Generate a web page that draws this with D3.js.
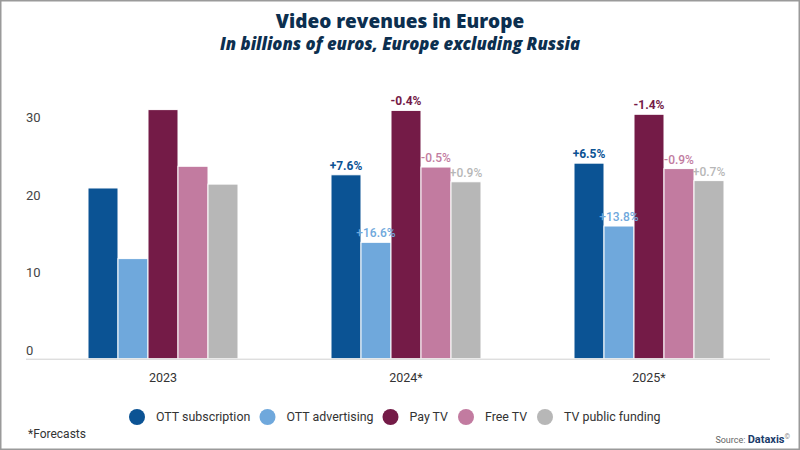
<!DOCTYPE html>
<html><head><meta charset="utf-8">
<script src="https://cdn.jsdelivr.net/npm/d3@7"></script>
<style>
html,body{margin:0;padding:0;background:#fff;}
svg{display:block;font-family:Roboto,"Noto Sans",sans-serif;}
</style></head>
<body><svg id="chart" width="800" height="450"></svg>
<script>
const categories = ["2023", "2024*", "2025*"];
const seriesNames = ["OTT subscription", "OTT advertising", "Pay TV", "Free TV", "TV public funding"];
const seriesColors = ["#0b5394", "#6fa8dc", "#741b47", "#c27ba0", "#b7b7b7"];
const ottSubscription = [22.0, 23.7, 25.2];
const ottAdvertising = [12.9, 15.0, 17.1];
const payTV = [32.1, 32.0, 31.5];
const freeTV = [24.8, 24.7, 24.5];
const tvPublicFunding = [22.5, 22.8, 22.95];
const growthLabels = [
  [null, "+7.6%", "+6.5%"],
  [null, "+16.6%", "+13.8%"],
  [null, "-0.4%", "-1.4%"],
  [null, "-0.5%", "-0.9%"],
  [null, "+0.9%", "+0.7%"]
];
const yTicks = [0, 10, 20, 30];
const seriesValues = [ottSubscription, ottAdvertising, payTV, freeTV, tvPublicFunding];

const svg = d3.select("#chart");
const W = 800, H = 450;

// frame
svg.append("rect").attr("x", 0.75).attr("y", 0.75).attr("width", W - 1.5).attr("height", H - 1.5)
  .attr("fill", "#fff").attr("stroke", "#9a9a9a").attr("stroke-width", 1.5);

// titles
svg.append("text").attr("x", 400).attr("y", 27.5).attr("text-anchor", "middle")
  .attr("font-family", "'Open Sans',sans-serif").attr("font-weight", 800).attr("font-size", 19)
  .attr("fill", "#0c2f4f").text("Video revenues in Europe");
svg.append("text").attr("x", 400).attr("y", 50).attr("text-anchor", "middle")
  .attr("font-family", "'Open Sans',sans-serif").attr("font-weight", 800).attr("font-style", "italic")
  .attr("font-size", 16.7).attr("fill", "#0c2f4f").text("In billions of euros, Europe excluding Russia");

const x0 = d3.scaleBand().domain(categories).range([41.5, 770.5]).paddingInner(0).paddingOuter(0);
const y = d3.scaleLinear().domain([0, 30]).range([358.7, 125.9]);
const barW = 30;
const x1 = d3.scaleBand().domain(d3.range(seriesNames.length))
  .range([0, barW * seriesNames.length]);

// y axis labels
const yAxis = d3.axisLeft(y).tickValues(yTicks).tickSize(0).tickPadding(0);
const gy = svg.append("g").attr("transform", "translate(26,0)").call(yAxis);
gy.select(".domain").remove();
gy.selectAll("text").attr("text-anchor", "start").attr("x", 0).attr("dy", "-0.32em")
  .attr("font-family", "Roboto,sans-serif").attr("font-size", 13).attr("fill", "#444");

// bars
const groups = svg.append("g").selectAll("g").data(categories).join("g")
  .attr("transform", d => `translate(${x0(d) + x0.bandwidth() / 2 - barW * seriesNames.length / 2},0)`);

groups.each(function (cat, ci) {
  const g = d3.select(this);
  seriesValues.forEach((vals, si) => {
    g.append("rect")
      .attr("x", x1(si)).attr("y", y(vals[ci]))
      .attr("width", x1.bandwidth()).attr("height", y(0) - y(vals[ci]))
      .attr("fill", seriesColors[si]).attr("stroke", "#fff").attr("stroke-width", 1);
  });
  seriesValues.forEach((vals, si) => {
    const lab = growthLabels[si][ci];
    if (!lab) return;
    g.append("text")
      .attr("x", x1(si) + x1.bandwidth() / 2).attr("y", y(vals[ci]) - 5)
      .attr("text-anchor", "middle").attr("font-family", "Roboto,sans-serif")
      .attr("font-size", 12).attr("font-weight", si === 0 || si === 2 ? 700 : 500)
      .attr("fill", seriesColors[si]).text(lab);
  });
});

// x axis
const xAxis = d3.axisBottom(x0).tickSize(0).tickPadding(0);
const gx = svg.append("g").attr("transform", `translate(0,${y(0)})`).call(xAxis);
gx.select(".domain").remove();
svg.append("line").attr("x1", 26).attr("x2", 770).attr("y1", y(0) + 0.5).attr("y2", y(0) + 0.5)
  .attr("stroke", "#d0d0d0").attr("stroke-width", 1);
gx.selectAll("text").attr("y", 19).attr("dy", "0.32em").attr("font-family", "Roboto,sans-serif")
  .attr("font-size", 12.5).attr("fill", "#333");

// legend
const legendX = [137, 267.5, 390.5, 466, 545];
const lg = svg.append("g").selectAll("g").data(seriesNames).join("g")
  .attr("transform", (d, i) => `translate(${legendX[i]},417)`);
lg.append("circle").attr("r", 8).attr("fill", (d, i) => seriesColors[i]);
lg.append("text").attr("x", 19).attr("dy", "0.35em").attr("font-family", "Roboto,sans-serif")
  .attr("font-size", 12.4).attr("fill", "#333").text(d => d);

// footer
svg.append("text").attr("x", 28).attr("y", 438).attr("font-family", "Roboto,sans-serif")
  .attr("font-size", 12).attr("fill", "#333").text("*Forecasts");
const src = svg.append("text").attr("x", 790).attr("y", 443).attr("text-anchor", "end")
  .attr("font-family", "Roboto,sans-serif");
src.append("tspan").attr("font-size", 9).attr("fill", "#666").text("Source: ");
src.append("tspan").attr("font-size", 11).attr("font-weight", 700).attr("fill", "#1b3d6b").text("Dataxis");
src.append("tspan").attr("font-size", 7).attr("fill", "#888").attr("dy", -4).text("©");
</script></body></html>
